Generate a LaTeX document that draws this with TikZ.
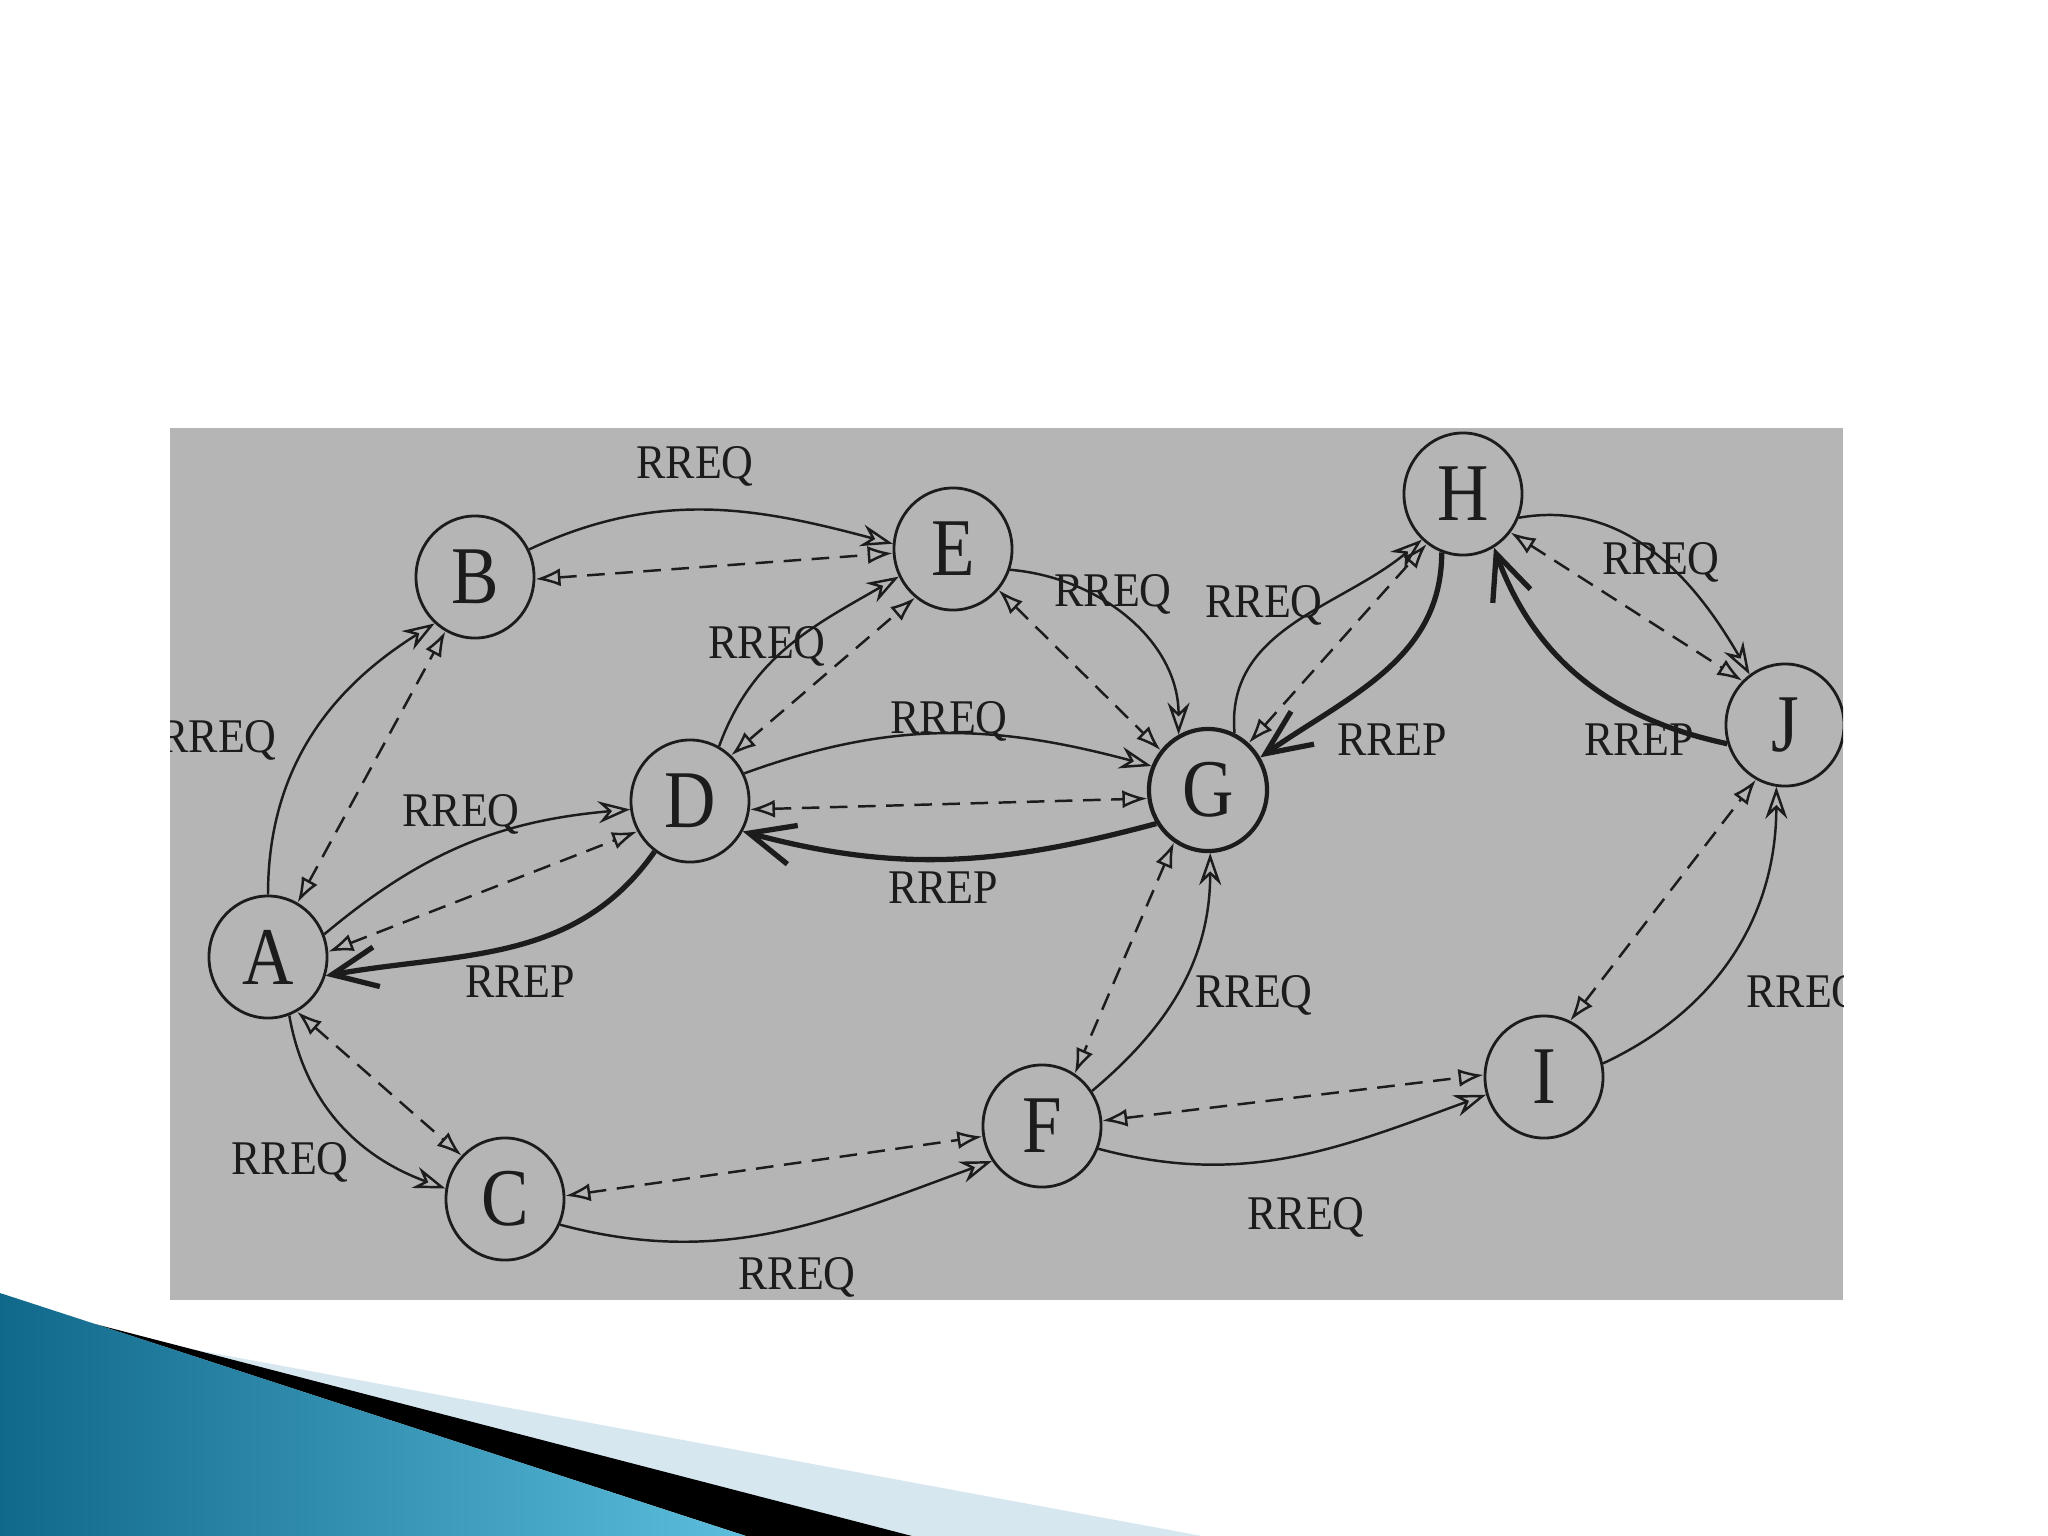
\documentclass[tikz,border=0pt]{standalone}
\usepackage{fontspec}
\setmainfont{Liberation Serif}
\usetikzlibrary{arrows.meta,shapes.geometric}
\definecolor{bggray}{RGB}{181,181,181}
\definecolor{ink}{RGB}{28,28,28}
\definecolor{blueA}{RGB}{16,104,138}
\definecolor{blueB}{RGB}{92,190,220}
\definecolor{paleblue}{RGB}{214,231,240}
\newcommand{\ndtxt}[1]{\scalebox{0.92}[1.06]{#1}}
\newcommand{\lbtxt}[1]{\scalebox{1}[1.1]{#1}}
\begin{document}
\begin{tikzpicture}[x=0.01cm,y=0.01cm,
  nd/.style={ellipse,draw=ink,line width=0.8pt,minimum width=1.18cm,minimum height=1.22cm,inner sep=0pt,font=\fontsize{22}{22}\selectfont,text=ink},
  req/.style={draw=ink,line width=0.7pt,-{Stealth[length=3.2mm,width=2.2mm,open]}},
  rep/.style={draw=ink,line width=1.5pt,-{Straight Barb[length=4.5mm,width=4mm]}},
  dsh/.style={draw=ink,line width=0.7pt,dash pattern=on 5pt off 3pt,{Latex[open,length=2.5mm,width=1.8mm]}-{Latex[open,length=2.5mm,width=1.8mm]}},
  lbl/.style={font=\fontsize{12.5}{13}\selectfont,text=ink,inner sep=0pt}]
\useasboundingbox (0,0) rectangle (2048,-1536);
\fill[white] (0,0) rectangle (2048,-1536);
% decoration
\fill[paleblue] (180,-1347) -- (1202,-1536) -- (912,-1536) -- cycle;
\fill[black] (95,-1324) -- (912,-1536) -- (746,-1536) -- cycle;
\shade[left color=blueA,right color=blueB] (0,-1293) -- (746,-1536) -- (0,-1536) -- cycle;
% panel
\fill[bggray] (170,-428) rectangle (1843,-1300);
\begin{scope}
\clip (170,-428) rectangle (1843,-1300);
\node[nd] (A) at (268,-957) {\ndtxt{A}};
\node[nd] (B) at (475,-577) {\ndtxt{B}};
\node[nd] (C) at (505,-1199) {\ndtxt{C}};
\node[nd] (D) at (690,-801) {\ndtxt{D}};
\node[nd] (E) at (953,-549) {\ndtxt{E}};
\node[nd] (F) at (1042,-1126) {\ndtxt{F}};
\node[nd,line width=1.2pt] (G) at (1208,-790) {\ndtxt{G}};
\node[nd] (H) at (1463,-494) {\ndtxt{H}};
\node[nd] (I) at (1544,-1077) {\ndtxt{I}};
\node[nd] (J) at (1785,-725) {\ndtxt{J}};

\draw[req] (A.90) to[out=90,in=212] (B.229);
\draw[dsh] (A) -- (B);
\draw[req] (B.27) to[out=25,in=165] (E.175);
\draw[dsh] (B.358) -- (E.184);
\draw[req] (A.22) to[out=40,in=185] (D.188);
\draw[dsh] (A.5) -- (D.210);
\draw[rep] (D.235) to[out=235,in=10] (A.342);
\draw[req] (A.290) to[out=280,in=160] (C.170);
\draw[dsh] (A.298) -- (C.135);
\draw[dsh] (C.3) -- (F.190);
\draw[req] (C.335) to[out=-15,in=200] (F.215);
\draw[req] (D.62) to[out=70,in=210] (E.207);
\draw[dsh] (D.48) -- (E.232);
\draw[req] (D.27) to[out=20,in=165] (G.157);
\draw[dsh] (D.-8) -- (G.188);
\draw[rep] (G.213) to[out=195,in=345] (D.330);
\draw[req] (E.340) to[out=-5,in=90] (G.118);
\draw[dsh] (E.318) -- (G.140);
\draw[req] (G.65) to[out=95,in=220] (H.228);
\draw[dsh] (G.49) -- (H.234);
\draw[rep] (H.250) to[out=270,in=35] (G.32);
\draw[req] (H.337) to[out=10,in=120] (J.125);
\draw[dsh] (H.321) -- (J.134);
\draw[rep] (J.198) to[out=168,in=290] (H.300);
\draw[dsh] (G.237) -- (F.58);
\draw[req] (F.35) to[out=40,in=-90] (G.-88);
\draw[dsh] (F.5) -- (I.178);
\draw[req] (F.338) to[out=-15,in=200] (I.197);
\draw[dsh] (I.65) -- (J.242);
\draw[req] (I.13) to[out=25,in=-90] (J.262);

\node[lbl] (l1) at (695,-466) {\lbtxt{RREQ}};
\node[lbl] (l2) at (218,-740) {\lbtxt{RREQ}};
\node[lbl] (l3) at (461,-814) {\lbtxt{RREQ}};
\node[lbl] (l4) at (520,-982) {\lbtxt{RREP}};
\node[lbl] (l5) at (290,-1162) {\lbtxt{RREQ}};
\node[lbl] (l6) at (797,-1277) {\lbtxt{RREQ}};
\node[lbl] (l7) at (767,-646) {\lbtxt{RREQ}};
\node[lbl] (l8) at (949,-721) {\lbtxt{RREQ}};
\node[lbl] (l9) at (943,-888) {\lbtxt{RREP}};
\node[lbl] (l10) at (1113,-594) {\lbtxt{RREQ}};
\node[lbl] (l11) at (1264,-605) {\lbtxt{RREQ}};
\node[lbl] (l12) at (1392,-740) {\lbtxt{RREP}};
\node[lbl] (l13) at (1661,-562) {\lbtxt{RREQ}};
\node[lbl] (l14) at (1639,-740) {\lbtxt{RREP}};
\node[lbl] (l15) at (1254,-995) {\lbtxt{RREQ}};
\node[lbl] (l16) at (1306,-1217) {\lbtxt{RREQ}};
\node[lbl] (l17) at (1805,-995) {\lbtxt{RREQ}};
\end{scope}
\end{tikzpicture}
\end{document}
